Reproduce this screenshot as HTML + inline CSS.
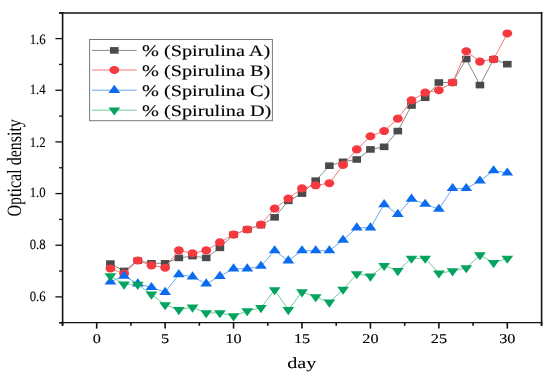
<!DOCTYPE html>
<html><head><meta charset="utf-8"><style>
html,body{margin:0;padding:0;background:#fff;}
body{width:550px;height:377px;overflow:hidden;}
svg{display:block;} text{text-rendering:geometricPrecision;}
</style></head><body>
<svg width="550" height="377" viewBox="0 0 550 377">
<rect width="550" height="377" fill="#fff"/>
<line x1="59.0" y1="13.0" x2="542.4" y2="13.0" stroke="#111" stroke-width="1.3"/>
<line x1="59.0" y1="322.6" x2="542.4" y2="322.6" stroke="#111" stroke-width="1.3"/>
<line x1="62.6" y1="12.35" x2="62.6" y2="325.8" stroke="#111" stroke-width="1.6"/>
<line x1="541.6" y1="12.35" x2="541.6" y2="325.8" stroke="#111" stroke-width="1.6"/>
<line x1="55.4" y1="296.90" x2="62.6" y2="296.90" stroke="#111" stroke-width="1.3"/>
<line x1="55.4" y1="245.24" x2="62.6" y2="245.24" stroke="#111" stroke-width="1.3"/>
<line x1="55.4" y1="193.58" x2="62.6" y2="193.58" stroke="#111" stroke-width="1.3"/>
<line x1="55.4" y1="141.92" x2="62.6" y2="141.92" stroke="#111" stroke-width="1.3"/>
<line x1="55.4" y1="90.26" x2="62.6" y2="90.26" stroke="#111" stroke-width="1.3"/>
<line x1="55.4" y1="38.60" x2="62.6" y2="38.60" stroke="#111" stroke-width="1.3"/>
<line x1="59.1" y1="322.73" x2="62.6" y2="322.73" stroke="#111" stroke-width="1.3"/>
<line x1="59.1" y1="271.07" x2="62.6" y2="271.07" stroke="#111" stroke-width="1.3"/>
<line x1="59.1" y1="219.41" x2="62.6" y2="219.41" stroke="#111" stroke-width="1.3"/>
<line x1="59.1" y1="167.75" x2="62.6" y2="167.75" stroke="#111" stroke-width="1.3"/>
<line x1="59.1" y1="116.09" x2="62.6" y2="116.09" stroke="#111" stroke-width="1.3"/>
<line x1="59.1" y1="64.43" x2="62.6" y2="64.43" stroke="#111" stroke-width="1.3"/>
<line x1="59.1" y1="12.77" x2="62.6" y2="12.77" stroke="#111" stroke-width="1.3"/>
<line x1="96.70" y1="322.6" x2="96.70" y2="328.6" stroke="#111" stroke-width="1.6"/>
<line x1="165.13" y1="322.6" x2="165.13" y2="328.6" stroke="#111" stroke-width="1.6"/>
<line x1="233.57" y1="322.6" x2="233.57" y2="328.6" stroke="#111" stroke-width="1.6"/>
<line x1="302.00" y1="322.6" x2="302.00" y2="328.6" stroke="#111" stroke-width="1.6"/>
<line x1="370.44" y1="322.6" x2="370.44" y2="328.6" stroke="#111" stroke-width="1.6"/>
<line x1="438.88" y1="322.6" x2="438.88" y2="328.6" stroke="#111" stroke-width="1.6"/>
<line x1="507.31" y1="322.6" x2="507.31" y2="328.6" stroke="#111" stroke-width="1.6"/>
<line x1="62.48" y1="322.6" x2="62.48" y2="325.8" stroke="#111" stroke-width="1.6"/>
<line x1="130.92" y1="322.6" x2="130.92" y2="325.8" stroke="#111" stroke-width="1.6"/>
<line x1="199.35" y1="322.6" x2="199.35" y2="325.8" stroke="#111" stroke-width="1.6"/>
<line x1="267.79" y1="322.6" x2="267.79" y2="325.8" stroke="#111" stroke-width="1.6"/>
<line x1="336.22" y1="322.6" x2="336.22" y2="325.8" stroke="#111" stroke-width="1.6"/>
<line x1="404.66" y1="322.6" x2="404.66" y2="325.8" stroke="#111" stroke-width="1.6"/>
<line x1="473.09" y1="322.6" x2="473.09" y2="325.8" stroke="#111" stroke-width="1.6"/>
<line x1="541.53" y1="322.6" x2="541.53" y2="325.8" stroke="#111" stroke-width="1.6"/>
<line x1="609.96" y1="322.6" x2="609.96" y2="325.8" stroke="#111" stroke-width="1.6"/>
<line x1="678.40" y1="322.6" x2="678.40" y2="325.8" stroke="#111" stroke-width="1.6"/>
<line x1="746.83" y1="322.6" x2="746.83" y2="325.8" stroke="#111" stroke-width="1.6"/>
<line x1="815.27" y1="322.6" x2="815.27" y2="325.8" stroke="#111" stroke-width="1.6"/>
<line x1="883.70" y1="322.6" x2="883.70" y2="325.8" stroke="#111" stroke-width="1.6"/>
<line x1="952.14" y1="322.6" x2="952.14" y2="325.8" stroke="#111" stroke-width="1.6"/>
<line x1="1020.57" y1="322.6" x2="1020.57" y2="325.8" stroke="#111" stroke-width="1.6"/>
<polyline points="110.39,263.58 124.07,270.94 137.76,260.74 151.45,263.32 165.13,263.32 178.82,257.90 192.51,256.09 206.20,257.90 219.88,247.82 233.57,234.65 247.26,229.48 260.94,225.09 274.63,217.34 288.32,200.81 302.00,193.58 315.69,180.66 329.38,165.68 343.07,161.81 356.75,159.48 370.44,149.41 384.13,146.83 397.81,131.07 411.50,105.50 425.19,97.75 438.88,82.51 452.56,82.51 466.25,59.01 479.94,85.09 493.62,59.26 507.31,64.17" fill="none" stroke="#8a8a8a" stroke-width="1.0"/><rect x="106.09" y="260.28" width="8.6" height="6.6" fill="#4a4a4a"/><rect x="119.77" y="267.64" width="8.6" height="6.6" fill="#4a4a4a"/><rect x="133.46" y="257.44" width="8.6" height="6.6" fill="#4a4a4a"/><rect x="147.15" y="260.02" width="8.6" height="6.6" fill="#4a4a4a"/><rect x="160.83" y="260.02" width="8.6" height="6.6" fill="#4a4a4a"/><rect x="174.52" y="254.60" width="8.6" height="6.6" fill="#4a4a4a"/><rect x="188.21" y="252.79" width="8.6" height="6.6" fill="#4a4a4a"/><rect x="201.90" y="254.60" width="8.6" height="6.6" fill="#4a4a4a"/><rect x="215.58" y="244.52" width="8.6" height="6.6" fill="#4a4a4a"/><rect x="229.27" y="231.35" width="8.6" height="6.6" fill="#4a4a4a"/><rect x="242.96" y="226.18" width="8.6" height="6.6" fill="#4a4a4a"/><rect x="256.64" y="221.79" width="8.6" height="6.6" fill="#4a4a4a"/><rect x="270.33" y="214.04" width="8.6" height="6.6" fill="#4a4a4a"/><rect x="284.02" y="197.51" width="8.6" height="6.6" fill="#4a4a4a"/><rect x="297.70" y="190.28" width="8.6" height="6.6" fill="#4a4a4a"/><rect x="311.39" y="177.36" width="8.6" height="6.6" fill="#4a4a4a"/><rect x="325.08" y="162.38" width="8.6" height="6.6" fill="#4a4a4a"/><rect x="338.77" y="158.51" width="8.6" height="6.6" fill="#4a4a4a"/><rect x="352.45" y="156.18" width="8.6" height="6.6" fill="#4a4a4a"/><rect x="366.14" y="146.11" width="8.6" height="6.6" fill="#4a4a4a"/><rect x="379.83" y="143.53" width="8.6" height="6.6" fill="#4a4a4a"/><rect x="393.51" y="127.77" width="8.6" height="6.6" fill="#4a4a4a"/><rect x="407.20" y="102.20" width="8.6" height="6.6" fill="#4a4a4a"/><rect x="420.89" y="94.45" width="8.6" height="6.6" fill="#4a4a4a"/><rect x="434.57" y="79.21" width="8.6" height="6.6" fill="#4a4a4a"/><rect x="448.26" y="79.21" width="8.6" height="6.6" fill="#4a4a4a"/><rect x="461.95" y="55.71" width="8.6" height="6.6" fill="#4a4a4a"/><rect x="475.64" y="81.79" width="8.6" height="6.6" fill="#4a4a4a"/><rect x="489.32" y="55.96" width="8.6" height="6.6" fill="#4a4a4a"/><rect x="503.01" y="60.87" width="8.6" height="6.6" fill="#4a4a4a"/>
<polyline points="110.39,268.49 124.07,273.65 137.76,260.48 151.45,265.39 165.13,267.71 178.82,250.41 192.51,253.25 206.20,250.41 219.88,242.40 233.57,234.65 247.26,229.48 260.94,224.58 274.63,208.56 288.32,198.49 302.00,188.41 315.69,185.31 329.38,183.25 343.07,164.91 356.75,149.41 370.44,136.24 384.13,131.07 397.81,118.67 411.50,100.33 425.19,92.58 438.88,90.26 452.56,82.51 466.25,51.26 479.94,61.59 493.62,59.26 507.31,33.43" fill="none" stroke="#f77a7a" stroke-width="1.0"/><ellipse cx="110.39" cy="268.49" rx="4.9" ry="4.05" fill="#f5393e"/><ellipse cx="124.07" cy="273.65" rx="4.9" ry="4.05" fill="#f5393e"/><ellipse cx="137.76" cy="260.48" rx="4.9" ry="4.05" fill="#f5393e"/><ellipse cx="151.45" cy="265.39" rx="4.9" ry="4.05" fill="#f5393e"/><ellipse cx="165.13" cy="267.71" rx="4.9" ry="4.05" fill="#f5393e"/><ellipse cx="178.82" cy="250.41" rx="4.9" ry="4.05" fill="#f5393e"/><ellipse cx="192.51" cy="253.25" rx="4.9" ry="4.05" fill="#f5393e"/><ellipse cx="206.20" cy="250.41" rx="4.9" ry="4.05" fill="#f5393e"/><ellipse cx="219.88" cy="242.40" rx="4.9" ry="4.05" fill="#f5393e"/><ellipse cx="233.57" cy="234.65" rx="4.9" ry="4.05" fill="#f5393e"/><ellipse cx="247.26" cy="229.48" rx="4.9" ry="4.05" fill="#f5393e"/><ellipse cx="260.94" cy="224.58" rx="4.9" ry="4.05" fill="#f5393e"/><ellipse cx="274.63" cy="208.56" rx="4.9" ry="4.05" fill="#f5393e"/><ellipse cx="288.32" cy="198.49" rx="4.9" ry="4.05" fill="#f5393e"/><ellipse cx="302.00" cy="188.41" rx="4.9" ry="4.05" fill="#f5393e"/><ellipse cx="315.69" cy="185.31" rx="4.9" ry="4.05" fill="#f5393e"/><ellipse cx="329.38" cy="183.25" rx="4.9" ry="4.05" fill="#f5393e"/><ellipse cx="343.07" cy="164.91" rx="4.9" ry="4.05" fill="#f5393e"/><ellipse cx="356.75" cy="149.41" rx="4.9" ry="4.05" fill="#f5393e"/><ellipse cx="370.44" cy="136.24" rx="4.9" ry="4.05" fill="#f5393e"/><ellipse cx="384.13" cy="131.07" rx="4.9" ry="4.05" fill="#f5393e"/><ellipse cx="397.81" cy="118.67" rx="4.9" ry="4.05" fill="#f5393e"/><ellipse cx="411.50" cy="100.33" rx="4.9" ry="4.05" fill="#f5393e"/><ellipse cx="425.19" cy="92.58" rx="4.9" ry="4.05" fill="#f5393e"/><ellipse cx="438.88" cy="90.26" rx="4.9" ry="4.05" fill="#f5393e"/><ellipse cx="452.56" cy="82.51" rx="4.9" ry="4.05" fill="#f5393e"/><ellipse cx="466.25" cy="51.26" rx="4.9" ry="4.05" fill="#f5393e"/><ellipse cx="479.94" cy="61.59" rx="4.9" ry="4.05" fill="#f5393e"/><ellipse cx="493.62" cy="59.26" rx="4.9" ry="4.05" fill="#f5393e"/><ellipse cx="507.31" cy="33.43" rx="4.9" ry="4.05" fill="#f5393e"/>
<polyline points="110.39,281.92 124.07,275.98 137.76,283.73 151.45,287.34 165.13,292.25 178.82,274.43 192.51,276.75 206.20,283.73 219.88,276.24 233.57,268.75 247.26,268.75 260.94,266.16 274.63,250.66 288.32,260.74 302.00,250.66 315.69,250.66 329.38,250.66 343.07,240.07 356.75,227.68 370.44,227.68 384.13,204.43 397.81,214.24 411.50,199.00 425.19,204.17 438.88,209.08 452.56,188.41 466.25,188.41 479.94,180.92 493.62,170.59 507.31,172.92" fill="none" stroke="#6ea8ee" stroke-width="1.0"/><polygon points="110.39,276.52 116.29,284.62 104.49,284.62" fill="#0b6cf0"/><polygon points="124.07,270.58 129.97,278.68 118.17,278.68" fill="#0b6cf0"/><polygon points="137.76,278.33 143.66,286.43 131.86,286.43" fill="#0b6cf0"/><polygon points="151.45,281.94 157.35,290.04 145.55,290.04" fill="#0b6cf0"/><polygon points="165.13,286.85 171.03,294.95 159.23,294.95" fill="#0b6cf0"/><polygon points="178.82,269.03 184.72,277.13 172.92,277.13" fill="#0b6cf0"/><polygon points="192.51,271.35 198.41,279.45 186.61,279.45" fill="#0b6cf0"/><polygon points="206.20,278.33 212.10,286.43 200.30,286.43" fill="#0b6cf0"/><polygon points="219.88,270.84 225.78,278.94 213.98,278.94" fill="#0b6cf0"/><polygon points="233.57,263.35 239.47,271.45 227.67,271.45" fill="#0b6cf0"/><polygon points="247.26,263.35 253.16,271.45 241.36,271.45" fill="#0b6cf0"/><polygon points="260.94,260.76 266.84,268.86 255.04,268.86" fill="#0b6cf0"/><polygon points="274.63,245.26 280.53,253.36 268.73,253.36" fill="#0b6cf0"/><polygon points="288.32,255.34 294.22,263.44 282.42,263.44" fill="#0b6cf0"/><polygon points="302.00,245.26 307.90,253.36 296.11,253.36" fill="#0b6cf0"/><polygon points="315.69,245.26 321.59,253.36 309.79,253.36" fill="#0b6cf0"/><polygon points="329.38,245.26 335.28,253.36 323.48,253.36" fill="#0b6cf0"/><polygon points="343.07,234.67 348.97,242.77 337.17,242.77" fill="#0b6cf0"/><polygon points="356.75,222.28 362.65,230.38 350.85,230.38" fill="#0b6cf0"/><polygon points="370.44,222.28 376.34,230.38 364.54,230.38" fill="#0b6cf0"/><polygon points="384.13,199.03 390.03,207.13 378.23,207.13" fill="#0b6cf0"/><polygon points="397.81,208.84 403.71,216.94 391.91,216.94" fill="#0b6cf0"/><polygon points="411.50,193.60 417.40,201.70 405.60,201.70" fill="#0b6cf0"/><polygon points="425.19,198.77 431.09,206.87 419.29,206.87" fill="#0b6cf0"/><polygon points="438.88,203.68 444.77,211.78 432.98,211.78" fill="#0b6cf0"/><polygon points="452.56,183.01 458.46,191.11 446.66,191.11" fill="#0b6cf0"/><polygon points="466.25,183.01 472.15,191.11 460.35,191.11" fill="#0b6cf0"/><polygon points="479.94,175.52 485.84,183.62 474.04,183.62" fill="#0b6cf0"/><polygon points="493.62,165.19 499.52,173.29 487.72,173.29" fill="#0b6cf0"/><polygon points="507.31,167.52 513.21,175.62 501.41,175.62" fill="#0b6cf0"/>
<polyline points="110.39,275.98 124.07,284.24 137.76,284.50 151.45,294.32 165.13,304.91 178.82,309.81 192.51,307.23 206.20,312.91 219.88,312.91 233.57,316.01 247.26,310.85 260.94,307.75 274.63,289.93 288.32,309.81 302.00,291.99 315.69,296.90 329.38,302.32 343.07,289.41 356.75,273.91 370.44,276.24 384.13,265.65 397.81,270.81 411.50,258.41 425.19,258.41 438.88,273.14 452.56,271.07 466.25,267.97 479.94,255.06 493.62,262.80 507.31,258.41" fill="none" stroke="#6fcc9e" stroke-width="1.0"/><polygon points="110.39,281.38 116.29,273.28 104.49,273.28" fill="#04a45e"/><polygon points="124.07,289.64 129.97,281.54 118.17,281.54" fill="#04a45e"/><polygon points="137.76,289.90 143.66,281.80 131.86,281.80" fill="#04a45e"/><polygon points="151.45,299.72 157.35,291.62 145.55,291.62" fill="#04a45e"/><polygon points="165.13,310.31 171.03,302.21 159.23,302.21" fill="#04a45e"/><polygon points="178.82,315.21 184.72,307.11 172.92,307.11" fill="#04a45e"/><polygon points="192.51,312.63 198.41,304.53 186.61,304.53" fill="#04a45e"/><polygon points="206.20,318.31 212.10,310.21 200.30,310.21" fill="#04a45e"/><polygon points="219.88,318.31 225.78,310.21 213.98,310.21" fill="#04a45e"/><polygon points="233.57,321.41 239.47,313.31 227.67,313.31" fill="#04a45e"/><polygon points="247.26,316.25 253.16,308.15 241.36,308.15" fill="#04a45e"/><polygon points="260.94,313.15 266.84,305.05 255.04,305.05" fill="#04a45e"/><polygon points="274.63,295.33 280.53,287.23 268.73,287.23" fill="#04a45e"/><polygon points="288.32,315.21 294.22,307.11 282.42,307.11" fill="#04a45e"/><polygon points="302.00,297.39 307.90,289.29 296.11,289.29" fill="#04a45e"/><polygon points="315.69,302.30 321.59,294.20 309.79,294.20" fill="#04a45e"/><polygon points="329.38,307.72 335.28,299.62 323.48,299.62" fill="#04a45e"/><polygon points="343.07,294.81 348.97,286.71 337.17,286.71" fill="#04a45e"/><polygon points="356.75,279.31 362.65,271.21 350.85,271.21" fill="#04a45e"/><polygon points="370.44,281.64 376.34,273.54 364.54,273.54" fill="#04a45e"/><polygon points="384.13,271.05 390.03,262.95 378.23,262.95" fill="#04a45e"/><polygon points="397.81,276.21 403.71,268.11 391.91,268.11" fill="#04a45e"/><polygon points="411.50,263.81 417.40,255.71 405.60,255.71" fill="#04a45e"/><polygon points="425.19,263.81 431.09,255.71 419.29,255.71" fill="#04a45e"/><polygon points="438.88,278.54 444.77,270.44 432.98,270.44" fill="#04a45e"/><polygon points="452.56,276.47 458.46,268.37 446.66,268.37" fill="#04a45e"/><polygon points="466.25,273.37 472.15,265.27 460.35,265.27" fill="#04a45e"/><polygon points="479.94,260.46 485.84,252.36 474.04,252.36" fill="#04a45e"/><polygon points="493.62,268.20 499.52,260.10 487.72,260.10" fill="#04a45e"/><polygon points="507.31,263.81 513.21,255.71 501.41,255.71" fill="#04a45e"/>
<rect x="89.6" y="39.5" width="182.79999999999998" height="81.2" fill="#fff" stroke="#777" stroke-width="1"/>
<line x1="91.8" y1="50.4" x2="136.7" y2="50.4" stroke="#8a8a8a" stroke-width="1"/>
<rect x="110.00" y="47.10" width="8.6" height="6.6" fill="#4a4a4a"/>
<line x1="91.8" y1="70.0" x2="136.7" y2="70.0" stroke="#f77a7a" stroke-width="1"/>
<ellipse cx="114.30" cy="70.00" rx="4.9" ry="4.05" fill="#f5393e"/>
<line x1="91.8" y1="90.2" x2="136.7" y2="90.2" stroke="#6ea8ee" stroke-width="1"/>
<polygon points="114.30,84.80 120.20,92.90 108.40,92.90" fill="#0b6cf0"/>
<line x1="91.8" y1="110.2" x2="136.7" y2="110.2" stroke="#6fcc9e" stroke-width="1"/>
<polygon points="114.30,115.60 120.20,107.50 108.40,107.50" fill="#04a45e"/>
<text transform="translate(142.0 55.8) scale(1.265 1.0)" font-family="Liberation Serif, serif" font-size="16" text-anchor="start" fill="#000" stroke="#000" stroke-width="0.12">% (Spirulina A)</text>
<text transform="translate(142.0 75.9) scale(1.265 1.0)" font-family="Liberation Serif, serif" font-size="16" text-anchor="start" fill="#000" stroke="#000" stroke-width="0.12">% (Spirulina B)</text>
<text transform="translate(142.0 95.8) scale(1.265 1.0)" font-family="Liberation Serif, serif" font-size="16" text-anchor="start" fill="#000" stroke="#000" stroke-width="0.12">% (Spirulina C)</text>
<text transform="translate(142.0 116.0) scale(1.265 1.0)" font-family="Liberation Serif, serif" font-size="16" text-anchor="start" fill="#000" stroke="#000" stroke-width="0.12">% (Spirulina D)</text>
<text transform="translate(45.6 301) scale(0.9 1.0)" font-family="Liberation Serif, serif" font-size="14.2" text-anchor="end" fill="#000" stroke="#000" stroke-width="0.12">0.6</text>
<text transform="translate(45.6 249) scale(0.9 1.0)" font-family="Liberation Serif, serif" font-size="14.2" text-anchor="end" fill="#000" stroke="#000" stroke-width="0.12">0.8</text>
<text transform="translate(45.6 197) scale(0.9 1.0)" font-family="Liberation Serif, serif" font-size="14.2" text-anchor="end" fill="#000" stroke="#000" stroke-width="0.12">1.0</text>
<text transform="translate(45.6 147) scale(0.9 1.0)" font-family="Liberation Serif, serif" font-size="14.2" text-anchor="end" fill="#000" stroke="#000" stroke-width="0.12">1.2</text>
<text transform="translate(45.6 94) scale(0.9 1.0)" font-family="Liberation Serif, serif" font-size="14.2" text-anchor="end" fill="#000" stroke="#000" stroke-width="0.12">1.4</text>
<text transform="translate(45.6 44) scale(0.9 1.0)" font-family="Liberation Serif, serif" font-size="14.2" text-anchor="end" fill="#000" stroke="#000" stroke-width="0.12">1.6</text>
<text transform="translate(96.7 343.0) scale(1.2 1.0)" font-family="Liberation Serif, serif" font-size="13.5" text-anchor="middle" fill="#000" stroke="#000" stroke-width="0.12">0</text>
<text transform="translate(165.135 343.0) scale(1.2 1.0)" font-family="Liberation Serif, serif" font-size="13.5" text-anchor="middle" fill="#000" stroke="#000" stroke-width="0.12">5</text>
<text transform="translate(233.57 343.0) scale(1.2 1.0)" font-family="Liberation Serif, serif" font-size="13.5" text-anchor="middle" fill="#000" stroke="#000" stroke-width="0.12">10</text>
<text transform="translate(302.005 343.0) scale(1.2 1.0)" font-family="Liberation Serif, serif" font-size="13.5" text-anchor="middle" fill="#000" stroke="#000" stroke-width="0.12">15</text>
<text transform="translate(370.44 343.0) scale(1.2 1.0)" font-family="Liberation Serif, serif" font-size="13.5" text-anchor="middle" fill="#000" stroke="#000" stroke-width="0.12">20</text>
<text transform="translate(438.875 343.0) scale(1.2 1.0)" font-family="Liberation Serif, serif" font-size="13.5" text-anchor="middle" fill="#000" stroke="#000" stroke-width="0.12">25</text>
<text transform="translate(507.30999999999995 343.0) scale(1.2 1.0)" font-family="Liberation Serif, serif" font-size="13.5" text-anchor="middle" fill="#000" stroke="#000" stroke-width="0.12">30</text>
<text transform="translate(301.8 367.6) scale(1.31 1.0)" font-family="Liberation Serif, serif" font-size="15.4" text-anchor="middle" fill="#000" stroke="#000" stroke-width="0.12">day</text>
<text transform="translate(20.9 167.8) rotate(-90) scale(1 1.27)" font-family="Liberation Serif, serif" font-size="16" text-anchor="middle" fill="#000">Optical density</text>
</svg>
</body></html>
